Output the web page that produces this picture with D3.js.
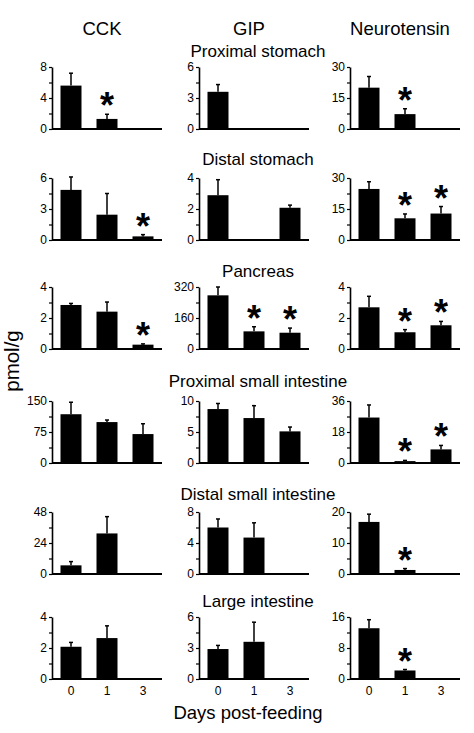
<!DOCTYPE html>
<html>
<head>
<meta charset="utf-8">
<script src="https://cdn.jsdelivr.net/npm/d3@7/dist/d3.min.js"></script>
<style>
  html, body { margin: 0; padding: 0; background: #fff; }
  svg { display: block; }
  text { font-family: "Liberation Sans", Arial, Helvetica, sans-serif; fill: #000; }
</style>
</head>
<body>
<svg id="chart" width="474" height="733"></svg>
<script>
// ---------------- data ----------------
const days = ["0", "1", "3"];
const hormones = ["CCK", "GIP", "Neurotensin"];
const regions = ["Proximal stomach", "Distal stomach", "Pancreas",
                 "Proximal small intestine", "Distal small intestine", "Large intestine"];

// means per region (rows) x day (0,1,3); null = not shown
const cckMean = [[5.6, 1.3, null], [4.85, 2.45, 0.35], [2.84, 2.41, 0.28],
                 [118, 99, 70], [6.7, 31.4, null], [2.08, 2.64, null]];
const cckSE   = [[1.6, 0.6, null], [1.25, 2.05, 0.17], [0.1, 0.62, 0.05],
                 [29, 5, 25], [2.9, 13, null], [0.28, 0.79, null]];
const cckSig  = [[0, 1, 0], [0, 0, 1], [0, 0, 1], [0, 0, 0], [0, 0, 0], [0, 0, 0]];
const cckMax  = [8, 6, 4, 150, 48, 4];

const gipMean = [[3.6, null, null], [2.89, null, 2.08], [277, 91, 84],
                 [8.7, 7.25, 5.1], [6.0, 4.7, null], [2.9, 3.6, null]];
const gipSE   = [[0.7, null, null], [1.0, null, 0.17], [43, 24, 24],
                 [0.9, 2.0, 0.7], [1.1, 1.9, null], [0.35, 1.9, null]];
const gipSig  = [[0, 0, 0], [0, 0, 0], [0, 1, 1], [0, 0, 0], [0, 0, 0], [0, 0, 0]];
const gipMax  = [6, 4, 320, 10, 8, 6];

const ntMean  = [[20, 7.2, null], [24.7, 10.5, 12.8], [2.69, 1.08, 1.53],
                 [26.4, 1.1, 7.9], [16.8, 1.3, null], [13.1, 2.2, null]];
const ntSE    = [[5.4, 2.6, null], [3.5, 2.1, 3.4], [0.71, 0.17, 0.25],
                 [7.3, 0.4, 2.3], [2.5, 0.45, null], [2.2, 0.25, null]];
const ntSig   = [[0, 1, 0], [0, 1, 1], [0, 1, 1], [0, 1, 1], [0, 1, 0], [0, 1, 0]];
const ntMax   = [30, 30, 4, 36, 20, 16];

const yLabel = "pmol/g";
const xLabel = "Days post-feeding";

// ---------------- layout ----------------
const colX = [52, 199, 350];
const rowTop = [67, 178, 287, 401, 512, 617];
const titleY = [57, 165, 277, 387, 500, 607];
const panelW = 110, panelH = 62;

const series = [
  { mean: cckMean, se: cckSE, sig: cckSig, max: cckMax },
  { mean: gipMean, se: gipSE, sig: gipSig, max: gipMax },
  { mean: ntMean,  se: ntSE,  sig: ntSig,  max: ntMax }
];

const svg = d3.select("#chart");

// column headers
hormones.forEach((h, c) => {
  svg.append("text")
    .attr("x", colX[c] + 50)
    .attr("y", 35)
    .attr("text-anchor", "middle")
    .style("font-size", "18.5px")
    .text(h);
});

// row titles
regions.forEach((r, i) => {
  svg.append("text")
    .attr("x", 258)
    .attr("y", titleY[i])
    .attr("text-anchor", "middle")
    .style("font-size", "17px")
    .text(r);
});

// y label
svg.append("text")
  .attr("transform", "translate(18.5,361) rotate(-90)")
  .attr("text-anchor", "middle")
  .style("font-size", "20.5px")
  .text(yLabel);

// x label
svg.append("text")
  .attr("x", 248)
  .attr("y", 719)
  .attr("text-anchor", "middle")
  .style("font-size", "18.5px")
  .text(xLabel);

const x = d3.scaleBand().domain(days).range([0, panelW])
  .paddingInner(0.4167).paddingOuter(0.236);

series.forEach((s, c) => {
  regions.forEach((reg, r) => {
    const g = svg.append("g")
      .attr("transform", `translate(${colX[c]},${rowTop[r]})`);
    const max = s.max[r];
    const y = d3.scaleLinear().domain([0, max]).range([panelH, 0]);

    const rows = days.map((d, i) => ({ day: d, m: s.mean[r][i], e: s.se[r][i], sig: s.sig[r][i] }))
      .filter(o => o.m !== null);

    // error bars
    rows.forEach(o => {
      const cx = x(o.day) + x.bandwidth() / 2;
      g.append("line")
        .attr("x1", cx).attr("x2", cx)
        .attr("y1", y(o.m)).attr("y2", y(o.m + o.e))
        .attr("stroke", "#000").attr("stroke-width", 1.5);
      g.append("line")
        .attr("x1", cx - 2).attr("x2", cx + 2)
        .attr("y1", y(o.m + o.e)).attr("y2", y(o.m + o.e))
        .attr("stroke", "#000").attr("stroke-width", 1.5);
    });

    // bars
    g.selectAll("rect.bar").data(rows).join("rect")
      .attr("class", "bar")
      .attr("x", o => x(o.day))
      .attr("width", x.bandwidth())
      .attr("y", o => y(o.m))
      .attr("height", o => panelH - y(o.m))
      .attr("fill", "#000");

    // significance stars
    rows.filter(o => o.sig).forEach(o => {
      g.append("text")
        .attr("x", x(o.day) + x.bandwidth() / 2)
        .attr("y", y(o.m + o.e) + 4)
        .attr("text-anchor", "middle")
        .style("font-size", "36px")
        .style("font-weight", "bold")
        .text("*");
    });

    // y axis minor ticks
    const minor = g.append("g").call(
      d3.axisLeft(y).tickValues([max / 4, 3 * max / 4]).tickSize(3).tickSizeOuter(0).tickFormat(""));
    minor.select(".domain").remove();
    minor.selectAll("line").attr("stroke-width", 1.2);

    // y axis major
    const ya = g.append("g").call(
      d3.axisLeft(y).tickValues([0, max / 2, max]).tickSize(3).tickSizeOuter(0).tickPadding(2)
        .tickFormat(d3.format("d")));
    ya.select(".domain").attr("stroke-width", 1.6);
    ya.selectAll(".tick line").attr("stroke-width", 1.2);
    ya.selectAll("text").style("font-size", "12px").attr("font-family", null);

    // x axis
    const xa = g.append("g").attr("transform", `translate(0,${panelH})`).call(
      d3.axisBottom(x).tickSize(0).tickSizeOuter(0).tickPadding(7));
    xa.select(".domain").attr("stroke-width", 1.8).attr("d", `M0,0H${panelW}`);
    xa.selectAll("text").style("font-size", "12px").attr("font-family", null);
    if (r !== regions.length - 1) xa.selectAll("text").remove();
  });
});
</script>
</body>
</html>
